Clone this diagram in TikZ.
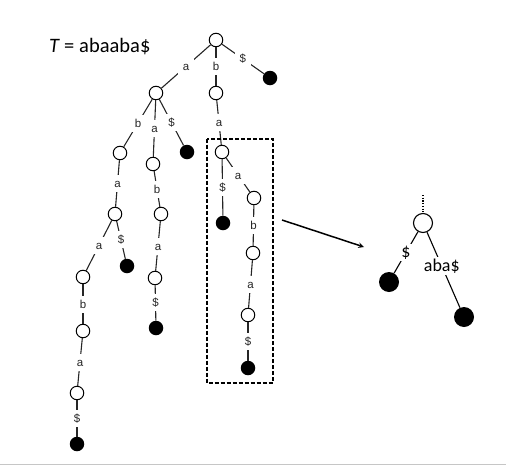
\documentclass[tikz,border=0pt]{standalone}
\usepackage{fontspec}
\setmainfont{Carlito}
\newfontfamily\edgefont{Liberation Sans}
\usetikzlibrary{positioning, arrows}

\begin{document}
\begin{tikzpicture}[
        >=stealth,
        x=1pt,
        y=-1pt,
        every node/.style={font=\edgefont\fontsize{11.5}{13}\selectfont},
        open/.style={circle, draw, fill=white, minimum size=13.5pt, inner sep=0pt, line width=1pt},
        leaf/.style={circle, fill=black, minimum size=14.5pt, inner sep=0pt},
        lbl/.style={fill=white, inner sep=4.5pt, text height=8pt, text depth=0pt, text=black!85},
        edge/.style={line width=1.1pt, black!85},
        bigopen/.style={circle, draw, fill=white, minimum size=19pt, inner sep=0pt, line width=1.1pt},
        bigleaf/.style={circle, fill=black, minimum size=20pt, inner sep=0pt},
        biglbl/.style={fill=white, inner sep=2pt, font=\fontsize{18}{21}\selectfont}
    ]
    \useasboundingbox (0,0) rectangle (506,466);
    \draw[gray!45, line width=1.5pt] (0,464.5) -- (506,464.5);

    \node[anchor=base west, inner sep=0pt, font=\fontsize{20.5}{24}\selectfont] (title) at (49,52) {\textit{T}\hspace{4pt}=\hspace{5pt}abaaba\$};

    % suffix trie
    \node[open] (root) at (216,40) {};
    \node[open] (a) at (156,93) {};
    \node[open] (b) at (216,93) {};
    \node[leaf] (s0) at (270,78) {};
    \node[open] (ab) at (120,153) {};
    \node[open] (aa) at (153,164) {};
    \node[leaf] (s1) at (187,152) {};
    \node[open] (aba) at (115,214) {};
    \node[open] (abaa) at (83,277) {};
    \node[leaf] (s2) at (127,266) {};
    \node[open] (abaab) at (83,331) {};
    \node[open] (abaaba) at (77,393) {};
    \node[leaf] (s3) at (77,444) {};
    \node[open] (aab) at (161,214) {};
    \node[open] (aaba) at (155,278) {};
    \node[leaf] (s4) at (156,328) {};
    \node[open] (ba) at (222,152) {};
    \node[leaf] (s5) at (223,223) {};
    \node[open] (baa) at (254,198) {};
    \node[open] (baab) at (253,253) {};
    \node[open] (baaba) at (248,315) {};
    \node[leaf] (s6) at (248,368) {};

    \draw[edge] (root) -- node[lbl]{a} (a);
    \draw[edge] (root) -- node[lbl]{b} (b);
    \draw[edge] (root) -- node[lbl]{\$} (s0);
    \draw[edge] (a) -- node[lbl]{b} (ab);
    \draw[edge] (a) -- node[lbl]{a} (aa);
    \draw[edge] (a) -- node[lbl]{\$} (s1);
    \draw[edge] (ab) -- node[lbl]{a} (aba);
    \draw[edge] (aba) -- node[lbl]{a} (abaa);
    \draw[edge] (aba) -- node[lbl]{\$} (s2);
    \draw[edge] (abaa) -- node[lbl]{b} (abaab);
    \draw[edge] (abaab) -- node[lbl]{a} (abaaba);
    \draw[edge] (abaaba) -- node[lbl]{\$} (s3);
    \draw[edge] (aa) -- node[lbl]{b} (aab);
    \draw[edge] (aab) -- node[lbl]{a} (aaba);
    \draw[edge] (aaba) -- node[lbl]{\$} (s4);
    \draw[edge] (b) -- node[lbl]{a} (ba);
    \draw[edge] (ba) -- node[lbl]{\$} (s5);
    \draw[edge] (ba) -- node[lbl]{a} (baa);
    \draw[edge] (baa) -- node[lbl]{b} (baab);
    \draw[edge] (baab) -- node[lbl]{a} (baaba);
    \draw[edge] (baaba) -- node[lbl]{\$} (s6);

    % zoomed part
    \draw[line width=2pt, dash pattern=on 4pt off 2pt] (207,138.5) rectangle (272.5,383);
    \coordinate (from) at (282,220);
    \coordinate (to) at (364,247);
    \draw[->, line width=1.5pt] (from) -- (to);

    \node[bigopen] (v) at (423,223) {};
    \node[bigleaf] (vl) at (389,282) {};
    \node[bigleaf] (vr) at (464,317) {};
    \coordinate (up) at (423,195);
    \draw[line width=1.3pt, dash pattern=on 1.2pt off 1.5pt] (up) -- (v);
    \draw[line width=1.1pt] (v) -- node[biglbl, pos=0.5]{\$} (vl);
    \draw[line width=1.1pt] (v) -- node[biglbl, pos=0.45]{aba\$} (vr);
\end{tikzpicture}
\end{document}
